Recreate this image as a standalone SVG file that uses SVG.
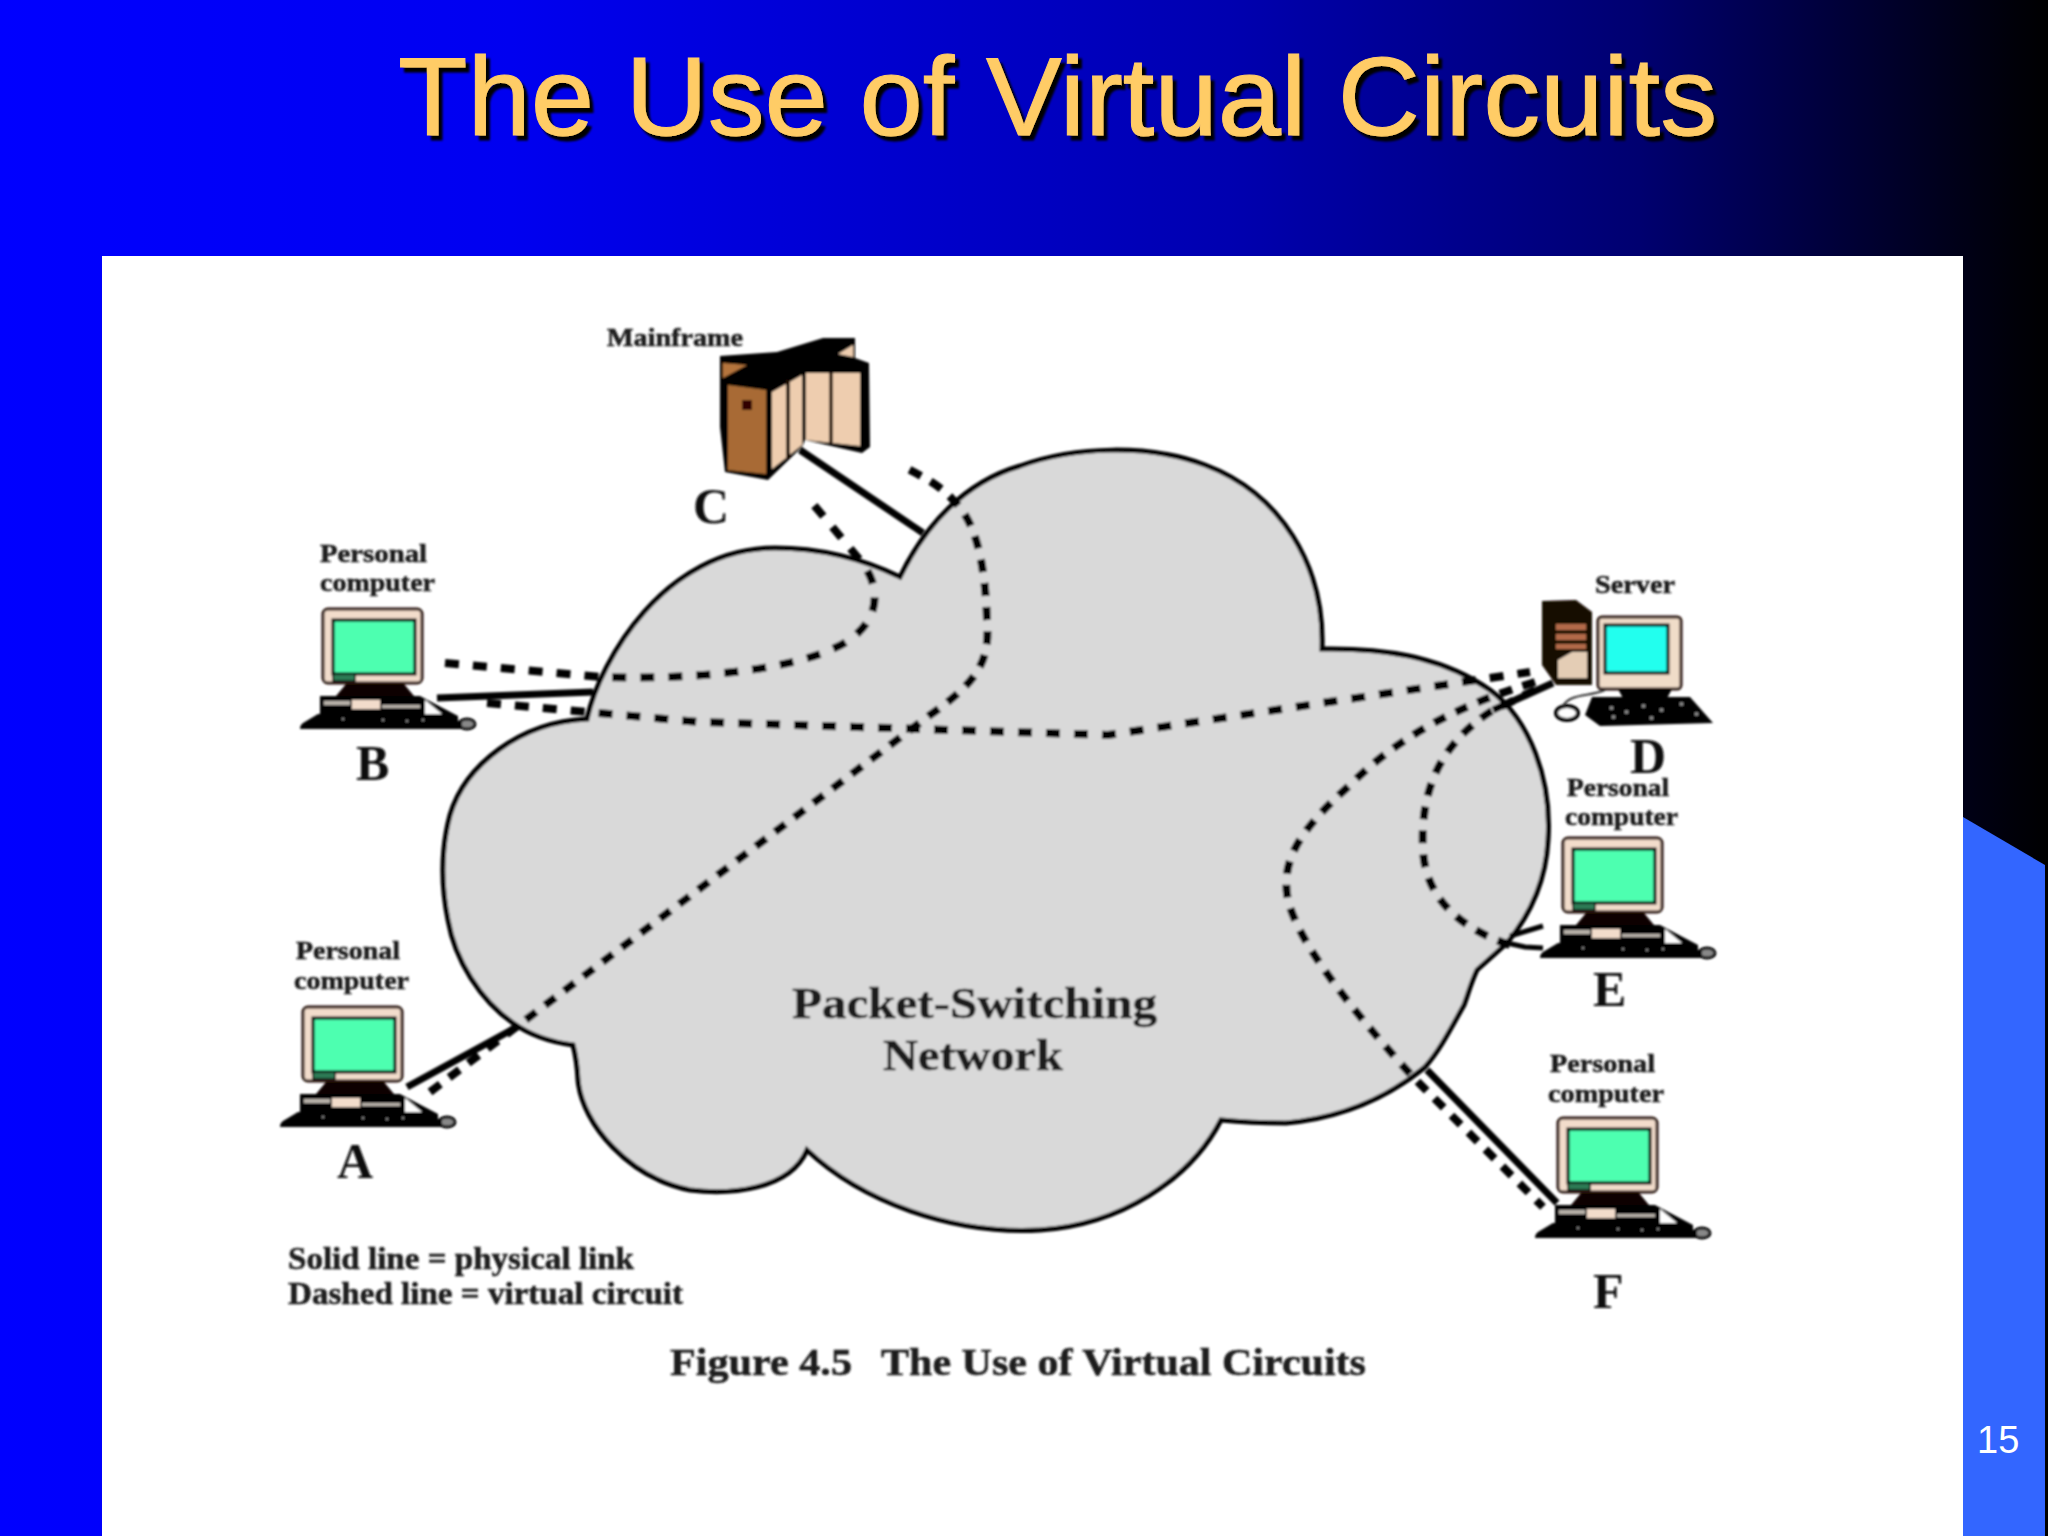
<svg xmlns="http://www.w3.org/2000/svg" width="2048" height="1536" viewBox="0 0 2048 1536">
<style>
.lb{font-family:"Liberation Serif",serif;font-weight:bold;fill:#1a1a1a;stroke:#1a1a1a;stroke-width:.5;font-size:25px}
.let{font-family:"Liberation Serif",serif;font-weight:bold;fill:#111;font-size:50px}
.big{font-size:45px}
.leg{font-size:32px}
.cap{font-size:38px}
.solid{fill:none;stroke:#000;stroke-width:7;stroke-linecap:butt}
.thin{fill:none;stroke:#000;stroke-width:5}
.vc{fill:none;stroke:#000;stroke-width:8;stroke-dasharray:13 11}
.vcw{fill:none;stroke:#000;stroke-width:8;stroke-dasharray:14 14}
</style>
<defs>
<linearGradient id="bg" x1="0" x2="1" y1="0" y2="0">
<stop offset="0" stop-color="#0000ff"/><stop offset=".25" stop-color="#0000f0"/><stop offset=".6" stop-color="#0000b0"/><stop offset=".8" stop-color="#000070"/><stop offset=".97" stop-color="#000010"/><stop offset="1" stop-color="#000000"/>
</linearGradient>
<filter id="soft" x="-2%" y="-2%" width="104%" height="104%"><feGaussianBlur stdDeviation="0.8"/></filter>
<filter id="shadow" x="-2%" y="-10%" width="104%" height="130%"><feDropShadow dx="4" dy="5" stdDeviation="1.2" flood-color="#000" flood-opacity="1"/></filter>
<g id="pc">
  <rect x="1" y="1" width="99" height="74" rx="5" fill="#f2dccb" stroke="#2a1510" stroke-width="3"/>
  <rect x="11" y="12" width="82" height="54" fill="#4dffb0" stroke="#000" stroke-width="3"/>
  <rect x="11" y="66" width="22" height="7" fill="#2f7a55" stroke="#000" stroke-width="1.5"/>
  <path d="M24,76H82L92,88H14Z" fill="#0a0505"/>
  <path d="M-2,88H98L136,108V118H-2Z" fill="#000"/>
  <rect x="2" y="93" width="26" height="4" fill="#b8b2aa"/>
  <rect x="30" y="92" width="28" height="9" fill="#f2dccb"/>
  <rect x="60" y="97" width="38" height="3" fill="#b8b2aa"/>
  <path d="M103,92L120,106H103Z" fill="#fff"/>
  <path d="M-4,106H122L140,121H-22Q-22,117 -19,115Z" fill="#000"/>
  <path d="M20,111h2M60,112h2M84,113h2M100,112h2" stroke="#888" stroke-width="2"/>
  <ellipse cx="145" cy="116" rx="8" ry="5" fill="#888" stroke="#000" stroke-width="3"/>
  <path d="M128,116h12" stroke="#000" stroke-width="6"/>
</g>
</defs>

<g id="background">
<rect width="2048" height="1536" fill="url(#bg)"/>
<polygon points="1963,817 2045,865 2045,1536 1963,1536" fill="#3366ff"/>
<rect x="102" y="256" width="1861" height="1280" fill="#fff"/>
</g>

<text id="title" x="398" y="135" fill="#ffcc66" stroke="#ffcc66" stroke-width="1" font-family="'Liberation Sans',Arial,sans-serif" font-size="112" textLength="1319" lengthAdjust="spacingAndGlyphs" filter="url(#shadow)">The Use of Virtual Circuits</text>

<g id="diagram" filter="url(#soft)">
<g id="cloud">
<path d="M900,577 C925,525 965,482 1020,466 C1075,446 1150,444 1205,465 C1280,493 1325,565 1322,649 C1380,648 1440,655 1490,690 C1530,720 1552,780 1548,840 C1546,880 1530,915 1507,943 L1477,970 C1470,985 1468,995 1464,1005 C1450,1030 1440,1050 1425,1067 C1385,1100 1340,1118 1286,1123 Q1250,1123 1221,1120 C1190,1180 1120,1225 1040,1230 C950,1235 860,1200 807,1150 C790,1190 730,1195 690,1190 C630,1178 582,1125 578,1080 Q577,1060 573,1045 C550,1042 530,1035 513,1023 C480,1000 455,960 448,920 C440,880 442,845 450,815 C465,765 520,722 587,719 C600,660 665,548 775,548 C825,548 865,560 900,577 Z" fill="#d9d9d9" stroke="#000" stroke-width="5"/>
<text class="lb big" x="792" y="1018" textLength="365" lengthAdjust="spacingAndGlyphs">Packet-Switching</text>
<text class="lb big" x="883" y="1070" textLength="180" lengthAdjust="spacingAndGlyphs">Network</text>
</g>

<g id="connectors">
<path class="solid" d="M800,450L923,533"/>
<path class="solid" d="M437,698L593,692"/>
<path class="solid" d="M407,1087L517,1027"/>
<path class="solid" d="M1553,683L1493,710"/>
<path class="thin" d="M1510,936L1543,926"/>
<path class="thin" d="M1507,943L1525,947L1543,948"/>
<path class="solid" d="M1427,1070L1557,1203"/>
<path class="vcw" d="M445,663L600,677C680,680 780,672 830,650C880,630 885,590 860,560L808,498"/>
<path class="vcw" d="M487,703L700,722L1108,735L1530,672"/>
<path class="vc" d="M430,1092L930,715C980,680 990,660 987,620C985,560 975,520 953,500C940,485 920,475 900,465"/>
<path class="vc" d="M1535,682C1460,705 1400,735 1350,785C1300,830 1280,860 1288,900C1300,950 1370,1030 1413,1077L1543,1207"/>
<path class="vc" d="M1535,690L1490,712C1440,745 1420,790 1423,850C1425,890 1450,925 1510,945"/>
</g>

<g id="node-c">
<polygon points="720,356 777,352 823,338 855,338 855,358 869,363 870,447 862,453 805,440 802,447 768,480 725,472 720,427" fill="#000"/>
<polygon points="723,363 747,365 723,378" fill="#b5743c"/>
<polygon points="728,385 766,390 766,474 728,470" fill="#a86a35"/>
<rect x="742" y="400" width="10" height="10" fill="#300"/>
<polygon points="772,392 802,375 802,445 772,469" fill="#eecdaf"/>
<rect x="786" y="380" width="4" height="78" fill="#1a0d05"/>
<polygon points="806,373 860,373 860,446 806,440" fill="#eecdaf"/>
<rect x="829" y="373" width="4" height="70" fill="#3a2515"/>
<polygon points="838,354 853,345 853,357" fill="#eecdaf"/>
<text class="lb" x="607" y="346" textLength="136" lengthAdjust="spacingAndGlyphs">Mainframe</text>
<text class="let" x="693" y="523">C</text>
</g>

<g id="node-b">
<use href="#pc" x="322" y="608"/>
<text class="lb" x="320" y="562" textLength="107" lengthAdjust="spacingAndGlyphs">Personal</text>
<text class="lb" x="320" y="591" textLength="115" lengthAdjust="spacingAndGlyphs">computer</text>
<text class="let" x="356" y="780">B</text>
</g>

<g id="node-a">
<use href="#pc" x="302" y="1006"/>
<text class="lb" x="296" y="959" textLength="104" lengthAdjust="spacingAndGlyphs">Personal</text>
<text class="lb" x="294" y="989" textLength="115" lengthAdjust="spacingAndGlyphs">computer</text>
<text class="let" x="337" y="1178">A</text>
</g>

<g id="node-d">
<polygon points="1542,601 1576,600 1592,612 1592,685 1556,685 1542,665" fill="#150806"/>
<rect x="1556" y="624" width="30" height="6" fill="#b36a48"/>
<rect x="1556" y="634" width="30" height="6" fill="#b36a48"/>
<rect x="1556" y="644" width="30" height="5" fill="#b36a48"/>
<polygon points="1558,660 1572,652 1587,652 1587,678 1558,678" fill="#e4cdb5"/>
<rect x="1598" y="617" width="83" height="72" rx="4" fill="#f0dcc8" stroke="#2a1510" stroke-width="3"/>
<rect x="1605" y="625" width="63" height="48" fill="#22ffee" stroke="#000" stroke-width="3"/>
<path d="M1618,689H1672L1665,702H1625Z" fill="#000"/>
<path d="M1592,697H1690L1713,723L1600,726L1585,715Z" fill="#000"/>
<path d="M1610,708h3M1625,712h3M1642,706h3M1660,710h3M1680,704h3M1695,714h3M1612,717h3M1650,718h3" stroke="#999" stroke-width="3"/>
<ellipse cx="1567" cy="713" rx="11" ry="7" fill="#fff" stroke="#000" stroke-width="4"/>
<path d="M1563,706C1570,693 1590,697 1605,690" fill="none" stroke="#333" stroke-width="2"/>
<text class="lb" x="1595" y="593" textLength="80" lengthAdjust="spacingAndGlyphs">Server</text>
<text class="let" x="1630" y="773">D</text>
</g>

<g id="node-e">
<use href="#pc" x="1562" y="837"/>
<text class="lb" x="1567" y="796" textLength="102" lengthAdjust="spacingAndGlyphs">Personal</text>
<text class="lb" x="1565" y="825" textLength="113" lengthAdjust="spacingAndGlyphs">computer</text>
<text class="let" x="1593" y="1006">E</text>
</g>

<g id="node-f">
<use href="#pc" x="1557" y="1117"/>
<text class="lb" x="1550" y="1072" textLength="105" lengthAdjust="spacingAndGlyphs">Personal</text>
<text class="lb" x="1548" y="1102" textLength="116" lengthAdjust="spacingAndGlyphs">computer</text>
<text class="let" x="1593" y="1308">F</text>
</g>

<g id="legend">
<text class="lb leg" x="288" y="1269" textLength="346" lengthAdjust="spacingAndGlyphs">Solid line = physical link</text>
<text class="lb leg" x="288" y="1304" textLength="395" lengthAdjust="spacingAndGlyphs">Dashed line = virtual circuit</text>
<text class="lb cap" x="670" y="1375" textLength="182" lengthAdjust="spacingAndGlyphs">Figure 4.5</text>
<text class="lb cap" x="881" y="1375" textLength="485" lengthAdjust="spacingAndGlyphs">The Use of Virtual Circuits</text>
</g>
</g>

<text id="page" x="1977" y="1453" fill="#fff" font-family="'Liberation Sans',Arial,sans-serif" font-size="38">15</text>
</svg>
